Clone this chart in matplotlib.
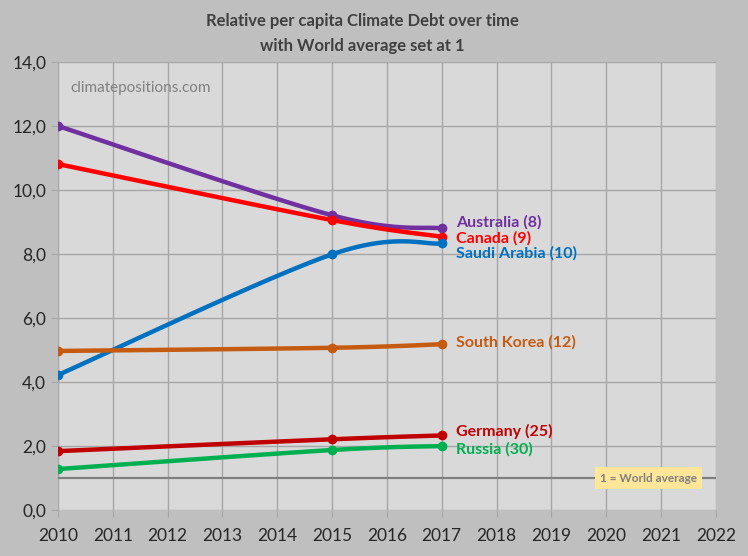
import matplotlib.pyplot as plt
import numpy as np

years = [2010, 2015, 2017]
australia = [12.0, 9.21, 8.80]
canada = [10.81, 9.06, 8.54]
saudi_arabia = [4.22, 7.99, 8.33]
south_korea = [4.97, 5.07, 5.18]
germany = [1.84, 2.21, 2.33]
russia = [1.28, 1.875, 2.0]

names = ["Australia (8)", "Canada (9)", "Saudi Arabia (10)",
         "South Korea (12)", "Germany (25)", "Russia (30)"]
series = [australia, canada, saudi_arabia, south_korea, germany, russia]
colors = ["#7030a0", "#ff0000", "#0070c0", "#c55a11", "#c00000", "#00b050"]
label_y = [9.0, 8.5, 8.03, 5.25, 2.44, 1.9]


# smooth line like the spreadsheet one (bezier through the points)
def smooth(xs, ys, n=60):
    p = np.column_stack([xs, ys]).astype(float)
    p_ext = np.vstack([p[0], p, p[-1]])
    out = []
    for i in range(len(p) - 1):
        p0, p1, p2, p3 = p_ext[i], p_ext[i + 1], p_ext[i + 2], p_ext[i + 3]
        c1 = p1 + (p2 - p0) / 6
        c2 = p2 - (p3 - p1) / 6
        t = np.linspace(0, 1, n)[:, None]
        seg = ((1 - t) ** 3) * p1 + 3 * ((1 - t) ** 2) * t * c1 + 3 * (1 - t) * t ** 2 * c2 + t ** 3 * p2
        out.append(seg)
    out = np.vstack(out)
    return out[:, 0], out[:, 1]


fig = plt.figure(figsize=(7.48, 5.56), dpi=100, facecolor="#bfbfbf")
ax = fig.add_axes([0.0775, 0.0827, 0.8795, 0.8058])
ax.set_facecolor("#d9d9d9")

ax.set_xlim(2010, 2022)
ax.set_ylim(0, 14)
ax.set_xticks(range(2010, 2023))
ax.set_yticks(np.arange(0, 15, 2))
ax.set_yticklabels([f"{v:.1f}".replace(".", ",") for v in np.arange(0, 15, 2)])
ax.grid(True, color="#a6a6a6", linewidth=1)
ax.set_axisbelow(True)
for s in ax.spines.values():
    s.set_visible(False)
ax.tick_params(axis="both", colors="#a6a6a6", labelcolor="#262626", labelsize=12.5, length=5)
ax.tick_params(axis="x", pad=8)
for lab in ax.get_xticklabels() + ax.get_yticklabels():
    lab.set_family("Lato")

# world average line
ax.axhline(1, color="#808080", linewidth=1.6, zorder=2)
ax.text(2020.77, 1, "1 = World average", ha="center", va="center", fontsize=8.5,
        fontweight="bold", color="#7f7f7f", family="Lato",
        bbox=dict(boxstyle="square,pad=0.45", fc="#ffe699", ec="none"), zorder=3)

for name, vals, c, ly in zip(names, series, colors, label_y):
    sx, sy = smooth(years, vals)
    ax.plot(sx, sy, color=c, linewidth=3.2, solid_capstyle="round", zorder=4)
    ax.plot(years, vals, "o", color=c, markersize=6, zorder=5)
    ax.text(2017.26, ly, name, color=c, fontsize=11.5, fontweight="bold",
            family="Lato", va="center", ha="left")

ax.text(2010.22, 13.2, "climatepositions.com", color="#808080", fontsize=11,
        family="Lato", va="center")

fig.text(0.484, 0.963, "Relative per capita Climate Debt over time", ha="center",
         va="center", fontsize=12, fontweight="bold", color="#404040", family="Lato")
fig.text(0.484, 0.918, "with World average set at 1", ha="center",
         va="center", fontsize=12, fontweight="bold", color="#404040", family="Lato")

fig.savefig("out.png", dpi=100, facecolor=fig.get_facecolor())
